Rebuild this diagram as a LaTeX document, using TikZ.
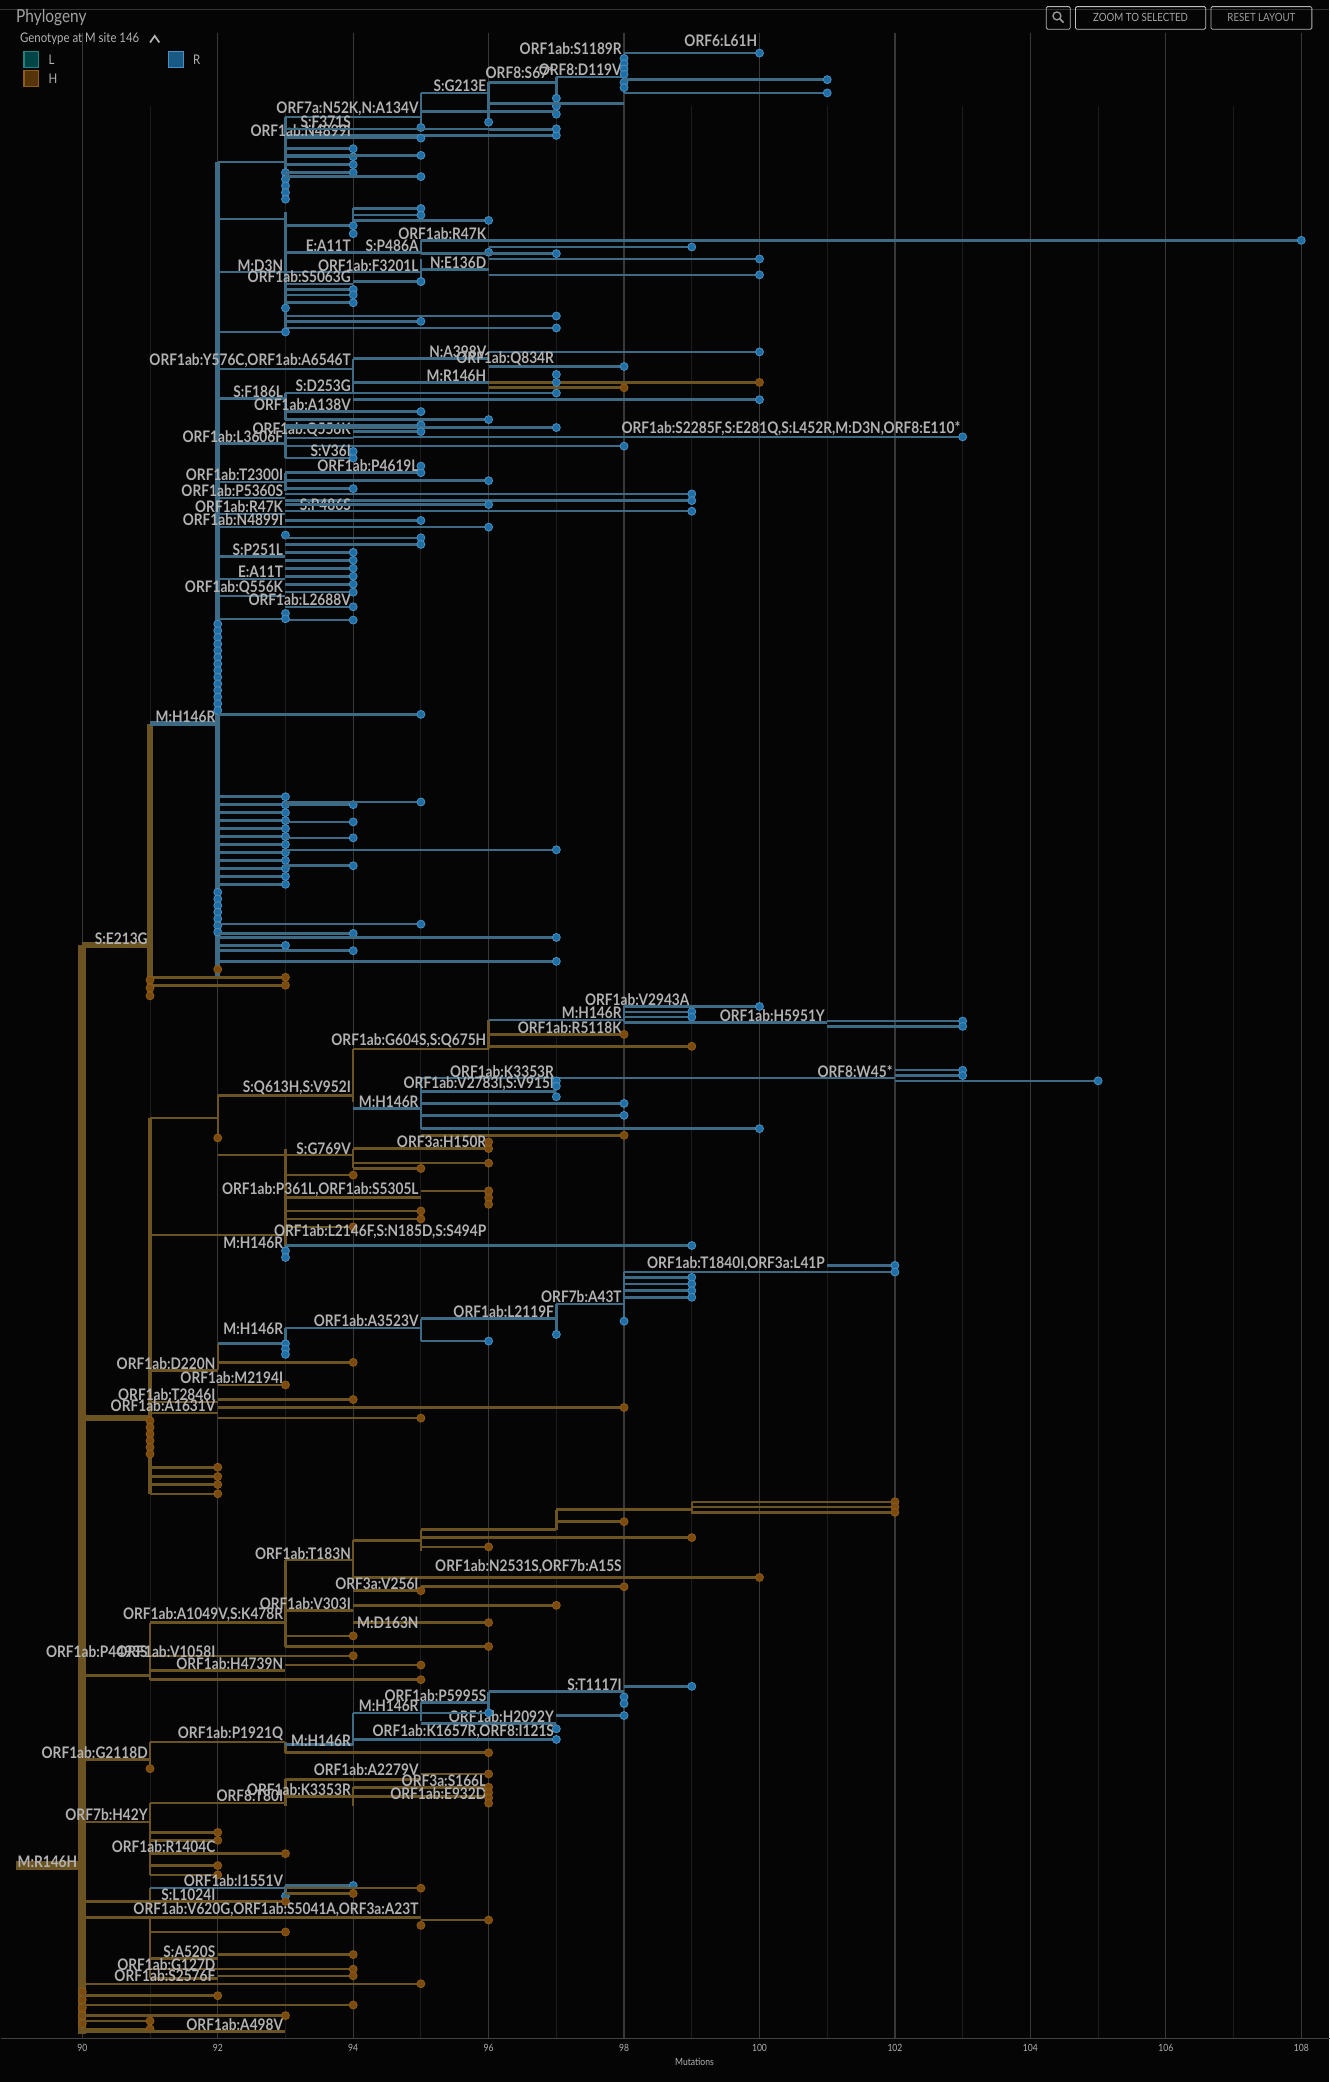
\documentclass[tikz,border=0pt]{standalone}
\usepackage{fontspec}
\setmainfont{Lato}[FakeStretch=0.86]
\definecolor{bg}{HTML}{050505}
\definecolor{bl}{HTML}{3D6A84}
\definecolor{bdot}{HTML}{1F6FA6}
\definecolor{bdr}{HTML}{4A8FBF}
\definecolor{hl}{HTML}{6B5322}
\definecolor{hdot}{HTML}{7A4A0E}
\definecolor{hdr}{HTML}{8E5C18}
\definecolor{lab}{HTML}{B2B2B2}
\tikzset{
 b/.style={draw=bl,line width=1.9pt},
 h/.style={draw=hl,line width=1.9pt},
 bd/.style={fill=bdot,draw=bdr,line width=0.6pt},
 hd/.style={fill=hdot,draw=hdr,line width=0.6pt},
 lbl/.style={anchor=south east,inner sep=0.6pt,text=lab,font=\bfseries\fontsize{12}{12}\selectfont,xshift=-1pt},
}
\newcommand\lbr[5]{\draw[#1] (#2,-#4) -- (#3,-#4); \node[lbl] at (#3,-#4) {#5};}
\newcommand\lnn[4]{\draw[#1] (#2,-#4) -- (#3,-#4);}
\newcommand\vln[4]{\draw[#1] (#2,-#3) -- (#2,-#4);}
\newcommand\tipp[3]{\filldraw[#1] (#2,-#3) circle[radius=3pt];}
\newcommand\blt[3]{\draw[b] (#1,-#3) -- (#2,-#3); \filldraw[bd] (#2,-#3) circle[radius=3pt];}
\newcommand\hlt[3]{\draw[h] (#1,-#3) -- (#2,-#3); \filldraw[hd] (#2,-#3) circle[radius=3pt];}
\begin{document}
\begin{tikzpicture}[x=1pt,y=1pt]
\fill[bg] (0,0) rectangle (1001,-1568);
\useasboundingbox (0,0) rectangle (1001,-1568);
\draw[gray!40!black,line width=0.8pt] (0,-7) -- (1001,-7);
% header
\node[anchor=west,text=lab!120,font=\fontsize{13.5}{14}\selectfont,inner sep=0] (title) at (12,-13) {Phylogeny};
\node[anchor=west,text=lab,font=\fontsize{10}{11}\selectfont,inner sep=0] (gen) at (15,-29) {Genotype at M site 146};
\draw[lab,line width=1.3pt] (113,-32) -- (116.5,-27) -- (120,-32);
\filldraw[fill=teal!55!black,draw=teal!70!gray,line width=1pt] (18,-39) rectangle (29,-51);
\node[anchor=west,text=lab,font=\fontsize{10}{11}\selectfont] (lL) at (33,-45) {L};
\filldraw[fill=bdot!80!black,draw=bdr,line width=1pt] (127,-39) rectangle (138,-51);
\node[anchor=west,text=lab,font=\fontsize{10}{11}\selectfont] (lR) at (142,-45) {R};
\filldraw[fill=hdot!70!black,draw=hdr,line width=1pt] (18,-53) rectangle (29,-65);
\node[anchor=west,text=lab,font=\fontsize{10}{11}\selectfont] (lH) at (33,-59) {H};
% buttons
\draw[gray!60,line width=0.6pt,rounded corners=1pt] (788,-5) rectangle (806,-22);
\draw[lab!130,line width=1pt] (796,-12) circle (3);
\draw[lab!130,line width=1.3pt] (798.2,-14.2) -- (801,-17);
\draw[gray!50,line width=0.6pt,rounded corners=1pt] (810,-5) rectangle (908,-22);
\node[text=gray!70,font=\fontsize{8.5}{9}\selectfont] (zs) at (859,-13.5) {ZOOM TO SELECTED};
\draw[gray!60,line width=0.6pt,rounded corners=1pt] (912,-5) rectangle (988,-22);
\node[text=lab!130,font=\fontsize{8.5}{9}\selectfont] (rl) at (950,-13.5) {RESET LAYOUT};
% grid
\begin{scope}[x=51pt,y=1pt,xshift=62pt]
\foreach \m in {1,3,...,17} {\draw[white!11!black,line width=0.8pt] (\m,-80) -- (\m,-1535);}
\foreach \m in {0,2,...,18} {\draw[white!22!black,line width=0.9pt] (\m,-25) -- (\m,-1535);}
\draw[white!25!black,line width=0.8pt] (-1.2,-1535) -- (18.6,-1535);
\foreach \m/\t in {0/90,2/92,4/94,6/96,8/98,10/100,12/102,14/104,16/106,18/108}
  {\node[text=lab,font=\fontsize{7.5}{8}\selectfont] at (\m,-1542) {\t};}
\node[text=lab,font=\fontsize{7.5}{8}\selectfont] (mut) at (9.04,-1553) {Mutations};

% ===== trunk =====
\draw[hl,line width=6pt] (0,-712) -- (0,-1532);
\draw[hl,line width=7pt] (-0.98,-1405) -- (0,-1405);
\node[anchor=south west,inner sep=1pt,text=lab,font=\bfseries\fontsize{12}{12}\selectfont] at (-0.98,-1408) {M:R146H};
\foreach \y in {1500,1506,1512,1518,1524} {\tipp{hd}{0}{\y}}

% ===== S:E213G clade =====
\draw[hl,line width=4.5pt] (0,-712) -- (1,-712); \node[lbl] at (1,-712) {S:E213G};
\draw[hl,line width=4pt] (1,-545) -- (1,-752);
\draw[bl,line width=4pt] (1,-545) -- (2,-545); \node[lbl] at (2,-545) {M:H146R};
\draw[bl,line width=3.5pt] (2,-122) -- (2,-735);
\foreach \y in {470,475,...,535} {\tipp{bd}{2}{\y}}
\foreach \y in {672,677,...,702} {\tipp{bd}{2}{\y}}
\blt{2}{5}{538}
\hlt{1}{3}{736}\hlt{1}{3}{742}
\tipp{hd}{1}{738}\tipp{hd}{1}{744}\tipp{hd}{1}{750}\tipp{hd}{2}{730}
% upper block 1
\lnn{b}{2}{3}{122}
\vln{b}{3}{88}{150}
\foreach \y in {130,135,...,150} {\tipp{bd}{3}{\y}}
\lbr{b}{3}{5}{88}{ORF7a:N52K,N:A134V}
\vln{b}{5}{70}{96}\tipp{bd}{5}{96}
\lbr{b}{5}{6}{70}{S:G213E}
\vln{b}{6}{62}{92}\tipp{bd}{6}{92}
\lnn{b}{6}{7}{62}\node[lbl] at (7,-60) {ORF8:S67*};
\vln{b}{7}{58}{86}
\foreach \y in {74,80,86} {\tipp{bd}{7}{\y}}
\lbr{b}{7}{8}{58}{ORF8:D119V}
\vln{b}{8}{42}{70}
\foreach \y in {44,48,52,56,62,66} {\tipp{bd}{8}{\y}}
\lbr{b}{8}{8}{42}{ORF1ab:S1189R}
\blt{8}{10}{40}\node[lbl] at (10,-36) {ORF6:L61H};
\blt{8}{11}{60}\blt{8}{11}{70}
\lnn{b}{6}{8}{78}
\lnn{b}{5}{7}{84}\lnn{b}{6}{7}{98}
\node[lbl] at (4,-97) {S:F371S};
\blt{3}{7}{102}\node[lbl] at (4,-104) {ORF1ab:N4899I};
\blt{3}{5}{104}\blt{3}{7}{97}
\foreach \y in {112,118,124,130} {\blt{3}{4}{\y}}
\blt{3}{5}{133}\blt{3}{5}{117}
% upper block 2
\lnn{b}{2}{3}{165}\vln{b}{3}{160}{250}
\blt{4}{5}{157}\blt{4}{5}{162}\vln{b}{4}{157}{176}\lnn{b}{3}{4}{170}
\blt{4}{6}{166}\tipp{bd}{4}{176}\tipp{bd}{4}{170}
\lbr{b}{3}{4}{190}{E:A11T}
\lbr{b}{4}{5}{190}{S:P486A}
\vln{b}{5}{181}{190}
\lbr{b}{5}{6}{181}{ORF1ab:R47K}
\blt{6}{18}{181}\blt{6}{9}{186}\tipp{bd}{6}{190}
\lnn{b}{2}{3}{205}\node[lbl] at (3,-205) {M:D3N};
\lbr{b}{3}{5}{205}{ORF1ab:F3201L}
\vln{b}{5}{195}{212}\tipp{bd}{5}{212}
\lbr{b}{5}{6}{203}{N:E136D}
\blt{6}{10}{195}\blt{6}{10}{207}\blt{5}{7}{191}
\lnn{b}{3}{4}{214}\node[lbl] at (4,-214) {ORF1ab:S5063G};
\blt{4}{5}{212}\foreach \y in {218,222,228} {\blt{3}{4}{\y}}
\blt{3}{3}{232}\blt{3}{5}{242}\blt{3}{7}{238}\blt{3}{7}{247}\blt{2}{3}{250}
% upper block 3
\lnn{b}{2}{4}{278}\node[lbl] at (4,-278) {ORF1ab:Y576C,ORF1ab:A6546T};
\vln{b}{4}{270}{296}
\lbr{b}{4}{6}{270}{N:A398V}\blt{6}{10}{265}
\lbr{b}{6}{7}{276}{ORF1ab:Q834R}\blt{7}{8}{276}\tipp{bd}{7}{282}
\lnn{b}{4}{6}{288}\node[lbl] at (6,-288) {M:R146H};
\hlt{6}{10}{288}\hlt{6}{8}{292}\tipp{bd}{7}{288}
\lbr{b}{3}{4}{296}{S:D253G}
\lnn{b}{2}{3}{300}\node[lbl] at (3,-300) {S:F186L};
\vln{b}{3}{296}{316}
\lbr{b}{3}{4}{310}{ORF1ab:A138V}
\blt{4}{7}{296}\blt{4}{10}{301}\blt{4}{5}{310}\blt{3}{6}{316}
% upper block 4
\lnn{b}{2}{3}{334}\node[lbl] at (3,-334) {ORF1ab:L3606F};
\vln{b}{3}{320}{345}
\lbr{b}{3}{4}{330}{ORF1ab:Q556K}
\blt{4}{13}{329}\node[lbl] at (13,-329) {ORF1ab:S2285F,S:E281Q,S:L452R,M:D3N,ORF8:E110*};
\blt{3}{5}{320}\blt{3}{7}{322}\blt{4}{5}{325}\blt{3}{8}{336}
\lbr{b}{3}{4}{345}{S:V36I}\tipp{bd}{4}{345}\tipp{bd}{4}{340}
\lnn{b}{2}{3}{363}\node[lbl] at (3,-363) {ORF1ab:T2300I};
\vln{b}{3}{356}{370}
\lbr{b}{3}{5}{356}{ORF1ab:P4619L}\tipp{bd}{5}{356}\tipp{bd}{5}{351}
\blt{3}{6}{362}\blt{3}{4}{368}
\lnn{b}{2}{3}{375}\node[lbl] at (3,-375) {ORF1ab:P5360S};
\blt{3}{9}{372}\blt{3}{9}{377}
\lnn{b}{2}{3}{387}\node[lbl] at (3,-387) {ORF1ab:R47K};
\lbr{b}{3}{4}{385}{S:P486S}\blt{4}{9}{385}\blt{3}{6}{380}
\lnn{b}{2}{3}{397}\node[lbl] at (3,-397) {ORF1ab:N4899I};
\blt{3}{6}{397}\blt{3}{5}{392}\tipp{bd}{3}{403}
\lnn{b}{2}{3}{419}\node[lbl] at (3,-419) {S:P251L};
\blt{3}{5}{405}\blt{3}{5}{410}\blt{3}{4}{416}\blt{3}{4}{422}
\lnn{b}{2}{3}{436}\node[lbl] at (3,-436) {E:A11T};
\blt{3}{4}{428}\blt{3}{4}{434}\blt{3}{4}{440}
\lnn{b}{2}{3}{449}\node[lbl] at (3,-449) {ORF1ab:Q556K};
\lbr{b}{3}{4}{457}{ORF1ab:L2688V}\blt{3}{4}{446}\blt{4}{4}{457}
\blt{3}{3}{462}\blt{3}{4}{467}\blt{2}{3}{466}
% middle blue lines
\foreach \y in {600,606,612,618,624,630,636,642,648,654,660,666} {\blt{2}{3}{\y}}
\blt{3}{4}{606}\blt{3}{4}{619}\blt{3}{4}{631}\blt{3}{4}{652}\blt{3}{5}{604}\blt{3}{7}{640}
\blt{2}{5}{696}\blt{2}{4}{703}\blt{2}{7}{706}\blt{2}{3}{712}\blt{2}{4}{716}\blt{2}{7}{724}

% ===== second big clade =====
\draw[hl,line width=4.5pt] (0,-1068) -- (1,-1068);
\draw[hl,line width=3pt] (1,-842) -- (1,-1125);
\lnn{h}{1}{2}{842}\vln{h}{2}{825}{857}\tipp{hd}{2}{857}
\lnn{h}{2}{4}{825}\node[lbl] at (4,-825) {S:Q613H,S:V952I};
\vln{h}{4}{790}{830}
\lnn{h}{4}{6}{790}\node[lbl] at (6,-790) {ORF1ab:G604S,S:Q675H};
\vln{h}{6}{768}{790}
\lnn{b}{6}{8}{768}\node[lbl] at (8,-768) {M:H146R};
\vln{b}{8}{758}{770}
\lbr{b}{8}{9}{758}{ORF1ab:V2943A}\blt{9}{10}{758}\blt{8}{9}{762}\blt{8}{9}{766}
\lnn{b}{8}{11}{770}\node[lbl] at (11,-770) {ORF1ab:H5951Y};\blt{11}{13}{769}\blt{11}{13}{773}
\lnn{h}{6}{8}{779}\node[lbl] at (8,-779) {ORF1ab:R5118K};\tipp{hd}{8}{779}\hlt{6}{9}{788}
\lnn{b}{4}{5}{835}\node[lbl] at (5,-835) {M:H146R};
\vln{b}{5}{812}{850}
\lnn{b}{5}{7}{812}\node[lbl] at (7,-812) {ORF1ab:K3353R};
\lnn{b}{7}{12}{812}\node[lbl] at (12,-812) {ORF8:W45*};
\blt{12}{13}{806}\blt{12}{13}{810}\blt{12}{15}{814}
\lbr{b}{5}{7}{822}{ORF1ab:V2783I,S:V915I}
\foreach \y in {814,818,826} {\tipp{bd}{7}{\y}}
\blt{5}{8}{831}\blt{5}{8}{840}\blt{5}{10}{850}\hlt{5}{8}{855}
\lnn{h}{2}{3}{870}\vln{h}{3}{865}{940}
\lbr{h}{3}{4}{870}{S:G769V}\vln{h}{4}{865}{880}
\lnn{h}{4}{6}{865}\node[lbl] at (6,-865) {ORF3a:H150R};\tipp{hd}{6}{865}\tipp{hd}{6}{860}
\hlt{4}{6}{876}\hlt{4}{5}{880}\hlt{3}{4}{885}
\lbr{h}{3}{5}{902}{ORF1ab:P361L,ORF1ab:S5305L}
\foreach \y in {897,902,907} {\tipp{hd}{6}{\y}}
\hlt{5}{6}{897}\hlt{3}{5}{912}\hlt{3}{5}{918}\hlt{3}{4}{924}
\lnn{h}{1}{3}{930}
\lnn{b}{3}{3}{937}\node[lbl] at (3,-941) {M:H146R};
\lnn{b}{3}{9}{938}\node[lbl] at (6,-934) {ORF1ab:L2146F,S:N185D,S:S494P};\tipp{bd}{9}{938}
\foreach \y in {942,947} {\tipp{bd}{3}{\y}}
\lnn{b}{2}{3}{1012}\node[lbl] at (3,-1006) {M:H146R};
\vln{b}{3}{1000}{1020}\foreach \y in {1012,1016,1020} {\tipp{bd}{3}{\y}}
\lnn{b}{3}{5}{1000}\node[lbl] at (5,-1000) {ORF1ab:A3523V};
\vln{b}{5}{993}{1010}\blt{5}{6}{1010}
\lnn{b}{5}{7}{993}\node[lbl] at (7,-993) {ORF1ab:L2119F};
\vln{b}{7}{982}{1005}\tipp{bd}{7}{1005}
\lnn{b}{7}{8}{982}\node[lbl] at (8,-982) {ORF7b:A43T};
\vln{b}{8}{958}{995}\tipp{bd}{8}{995}
\lnn{b}{8}{11}{958}\node[lbl] at (11,-958) {ORF1ab:T1840I,ORF3a:L41P};
\blt{11}{12}{953}\blt{11}{12}{958}
\foreach \y in {962,967,972,977} {\blt{8}{9}{\y}}
\lnn{h}{1}{2}{1032}\node[lbl] at (2,-1032) {ORF1ab:D220N};
\vln{h}{2}{1012}{1032}\hlt{2}{4}{1026}
\lnn{h}{2}{3}{1043}\node[lbl] at (3,-1043) {ORF1ab:M2194I};\tipp{hd}{3}{1043}
\lnn{h}{1}{2}{1056}\node[lbl] at (2,-1056) {ORF1ab:T2846I};
\hlt{2}{4}{1054}\hlt{2}{8}{1060}
\lnn{h}{1}{2}{1064}\node[lbl] at (2,-1064) {ORF1ab:A1631V};
\hlt{2}{5}{1068}
\foreach \y in {1070,1075,...,1095} {\tipp{hd}{1}{\y}}
\hlt{1}{2}{1105}\hlt{1}{2}{1112}\hlt{1}{2}{1118}\hlt{1}{2}{1125}

% ===== lower clades =====
\lnn{h}{0}{1}{1262}\vln{h}{1}{1222}{1265}
\node[lbl] at (1,-1249) {ORF1ab:P4493S};
\lnn{h}{1}{3}{1222}\node[lbl] at (3,-1222) {ORF1ab:A1049V,S:K478R};
\vln{h}{3}{1175}{1240}
\lnn{h}{3}{4}{1175}\node[lbl] at (4,-1175) {ORF1ab:T183N};
\vln{h}{4}{1160}{1192}
\lnn{h}{4}{5}{1160}\vln{h}{5}{1152}{1168}
\lnn{h}{5}{7}{1152}\vln{h}{7}{1137}{1152}\lnn{h}{7}{9}{1137}
\vln{h}{9}{1131}{1140}\hlt{9}{12}{1131}\hlt{9}{12}{1135}\hlt{9}{12}{1139}
\hlt{7}{8}{1146}\hlt{5}{9}{1158}\hlt{5}{6}{1165}
\lnn{h}{4}{8}{1188}\node[lbl] at (8,-1186) {ORF1ab:N2531S,ORF7b:A15S};
\hlt{8}{10}{1188}
\lbr{h}{4}{5}{1198}{ORF3a:V256I}\hlt{5}{8}{1195}\tipp{hd}{5}{1198}
\lbr{h}{3}{4}{1213}{ORF1ab:V303I}\hlt{4}{6}{1222}\hlt{4}{7}{1209}
\node[lbl] at (5,-1227) {M:D163N};
\hlt{3}{4}{1232}\hlt{3}{6}{1240}
\lnn{h}{1}{2}{1247}\node[lbl] at (2,-1249) {ORF1ab:V1058I};\hlt{2}{4}{1247}
\lnn{h}{1}{3}{1258}\node[lbl] at (3,-1258) {ORF1ab:H4739N};\hlt{3}{5}{1254}
\hlt{1}{5}{1265}
\lnn{h}{0}{1}{1325}\vln{h}{1}{1312}{1332}\node[lbl] at (1,-1325) {ORF1ab:G2118D};
\lnn{h}{1}{3}{1312}\node[lbl] at (3,-1312) {ORF1ab:P1921Q};
\vln{h}{3}{1312}{1320}\hlt{3}{6}{1320}\tipp{hd}{1}{1332}
\lnn{b}{3}{4}{1314}\node[lbl] at (4,-1316) {M:H146R};
\vln{b}{4}{1290}{1314}
\lnn{b}{4}{5}{1290}\node[lbl] at (5,-1290) {M:H146R};
\vln{b}{5}{1282}{1296}
\lnn{b}{5}{6}{1282}\node[lbl] at (6,-1282) {ORF1ab:P5995S};
\vln{b}{6}{1274}{1290}
\lnn{b}{6}{8}{1274}\node[lbl] at (8,-1274) {S:T1117I};
\blt{8}{9}{1270}\tipp{bd}{8}{1278}\tipp{bd}{8}{1283}
\lnn{b}{5}{7}{1298}\node[lbl] at (7,-1298) {ORF1ab:H2092Y};\blt{7}{8}{1292}\tipp{bd}{7}{1302}
\lnn{b}{4}{7}{1310}\node[lbl] at (7,-1310) {ORF1ab:K1657R,ORF8:I121S};\tipp{bd}{7}{1310}
\blt{5}{6}{1290}
\lnn{h}{1}{3}{1358}\node[lbl] at (3,-1358) {ORF8:T80I};
\vln{h}{3}{1340}{1360}
\lnn{h}{3}{5}{1340}\node[lbl] at (5,-1338) {ORF1ab:A2279V};\hlt{5}{6}{1336}
\lnn{h}{3}{4}{1353}\node[lbl] at (4,-1353) {ORF1ab:K3353R};
\lnn{h}{4}{6}{1346}\node[lbl] at (6,-1346) {ORF3a:S166L};
\lnn{h}{4}{6}{1353}\node[lbl] at (6,-1356) {ORF1ab:E932D};
\vln{h}{4}{1346}{1360}\foreach \y in {1346,1350,1354,1358} {\tipp{hd}{6}{\y}}
\lnn{h}{0}{1}{1372}\vln{h}{1}{1358}{1412}\node[lbl] at (1,-1372) {ORF7b:H42Y};
\hlt{1}{2}{1380}\hlt{1}{2}{1386}
\lnn{h}{1}{2}{1396}\node[lbl] at (2,-1396) {ORF1ab:R1404C};\hlt{2}{3}{1396}
\hlt{1}{2}{1405}\hlt{1}{2}{1412}
\lnn{h}{0}{1}{1432}\vln{h}{1}{1422}{1440}
\lnn{b}{1}{3}{1422}\node[lbl] at (3,-1422) {ORF1ab:I1551V};
\vln{b}{3}{1420}{1428}\blt{3}{4}{1420}\tipp{bd}{3}{1428}\hlt{3}{5}{1422}\hlt{3}{4}{1426}
\lnn{h}{1}{2}{1432}\node[lbl] at (2,-1432) {S:L1024I};\hlt{2}{3}{1432}
\lnn{h}{0}{1}{1444}\vln{h}{1}{1444}{1490}
\lnn{h}{1}{5}{1444}\node[lbl] at (5,-1444) {ORF1ab:V620G,ORF1ab:S5041A,ORF3a:A23T};
\hlt{5}{6}{1446}\tipp{hd}{5}{1450}\hlt{1}{3}{1455}
\lnn{h}{1}{2}{1475}\node[lbl] at (2,-1475) {S:A520S};\hlt{2}{4}{1472}
\lnn{h}{1}{2}{1483}\node[lbl] at (2,-1485) {ORF1ab:G127D};\hlt{2}{4}{1483}
\lnn{h}{1}{2}{1490}\node[lbl] at (2,-1493) {ORF1ab:S2576F};\hlt{2}{4}{1488}
\hlt{0}{5}{1494}\hlt{0}{2}{1503}\hlt{0}{4}{1510}\hlt{0}{3}{1518}
\hlt{0}{1}{1522}\hlt{0}{1}{1528}
\lnn{h}{0}{3}{1530}\node[lbl] at (3,-1530) {ORF1ab:A498V};
\end{scope}
\end{tikzpicture}
\end{document}
